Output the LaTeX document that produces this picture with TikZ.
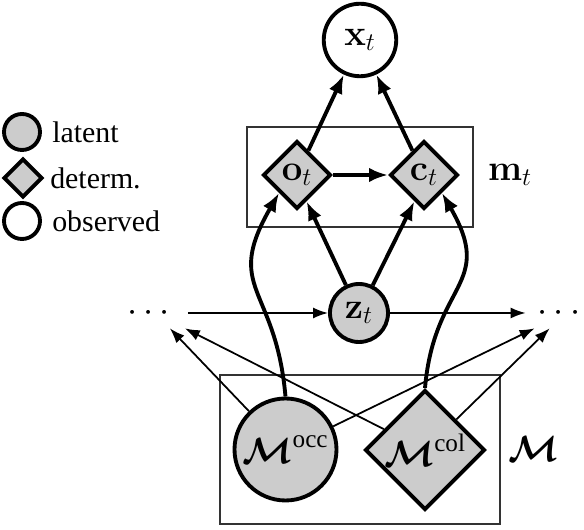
\documentclass[tikz,border=0pt]{standalone}
\usepackage{amsmath}
\usepackage[no-math]{fontspec}
\setmainfont{Liberation Serif}
\usetikzlibrary{shapes.geometric,arrows.meta,positioning}
\tikzset{
  mathsize/.style={font=\fontsize{20.5}{24}\selectfont},
  latent/.style={circle,draw,line width=2.2pt,fill=black!20,inner sep=0pt,mathsize},
  determ/.style={diamond,draw,line width=2.2pt,fill=black!20,inner sep=0pt,aspect=1,mathsize},
  obs/.style={circle,draw,line width=2.2pt,fill=white,inner sep=0pt,mathsize},
  dots/.style={minimum width=1.44cm,minimum height=0.6cm,inner sep=0pt,mathsize},
  edge/.style={line width=2.2pt,-{Latex[length=0.38cm,width=0.29cm]}},
  thinedge/.style={line width=1pt,-{Latex[length=0.3cm,width=0.22cm]}},
  plate/.style={draw=black!80,line width=0.9pt}
}

\begin{document}
\begin{tikzpicture}[font=\fontsize{17}{20}\selectfont]
        \useasboundingbox (0,0) rectangle (11.68,10.6);
        % plates
        \draw[plate] (4.94,6.06) rectangle (9.46,8.06);
        \draw[plate] (4.4,0.12) rectangle (10.0,3.1);
        % variables
        \node[obs,minimum size=1.45cm] (x) at (7.2,9.8) {$\mathbf{x}_t$};
        \node[determ,minimum size=1.36cm] (o) at (5.94,7.1) {$\mathbf{o}_t$};
        \node[determ,minimum size=1.36cm] (c) at (8.48,7.1) {$\mathbf{c}_t$};
        \node[mathsize] (m) at (10.2,7.1) {$\mathbf{m}_t$};
        \node[latent,minimum size=1.16cm] (z) at (7.18,4.34) {$\mathbf{z}_t$};
        \node[dots] (dl) at (3.03,4.34) {$\cdots$};
        \node[dots] (dr) at (11.24,4.34) {$\cdots$};
        \node[latent,minimum size=2.04cm] (mocc) at (5.71,1.61) {$\boldsymbol{\mathcal{M}}^{\text{occ}}$};
        \node[determ,minimum size=2.4cm] (mcol) at (8.5,1.6) {$\boldsymbol{\mathcal{M}}^{\text{col}}$};
        \node[mathsize] (mm) at (10.68,1.62) {$\boldsymbol{\mathcal{M}}$};
        % legend
        \node[latent,minimum size=0.72cm] (llat) at (0.44,7.96) {};
        \node[right=0.2cm of llat,inner sep=0pt] (llattxt) {latent};
        \node[determ,minimum size=0.78cm] (ldet) at (0.46,7.04) {};
        \node[right=0.11cm of ldet,inner sep=0pt] (ldettxt) {determ.};
        \node[obs,minimum size=0.72cm] (lobs) at (0.44,6.18) {};
        \node[right=0.2cm of lobs,inner sep=0pt] (lobstxt) {observed};
        % edges
        \draw[edge] (o) -- (x);
        \draw[edge] (c) -- (x);
        \draw[edge] (o) -- (c);
        \draw[edge] (z) -- (o.-70);
        \draw[edge] (z) -- (c.-110);
        \draw[edge] (mocc.north) to[out=95,in=-120,looseness=1.4] (o.-135);
        \draw[edge] (mcol.north) to[out=85,in=-60,looseness=1.4] (c.-45);
        \draw[thinedge] (dl) -- (z);
        \draw[thinedge] (z) -- (dr);
        \draw[thinedge] (mocc) -- ([xshift=-0.36cm]dl.south east);
        \draw[thinedge] (mcol) -- ([xshift=-0.06cm]dl.south east);
        \draw[thinedge] (mocc) -- ([xshift=0.18cm]dr.south west);
        \draw[thinedge] (mcol) -- ([xshift=0.48cm]dr.south west);
\end{tikzpicture}
\end{document}
